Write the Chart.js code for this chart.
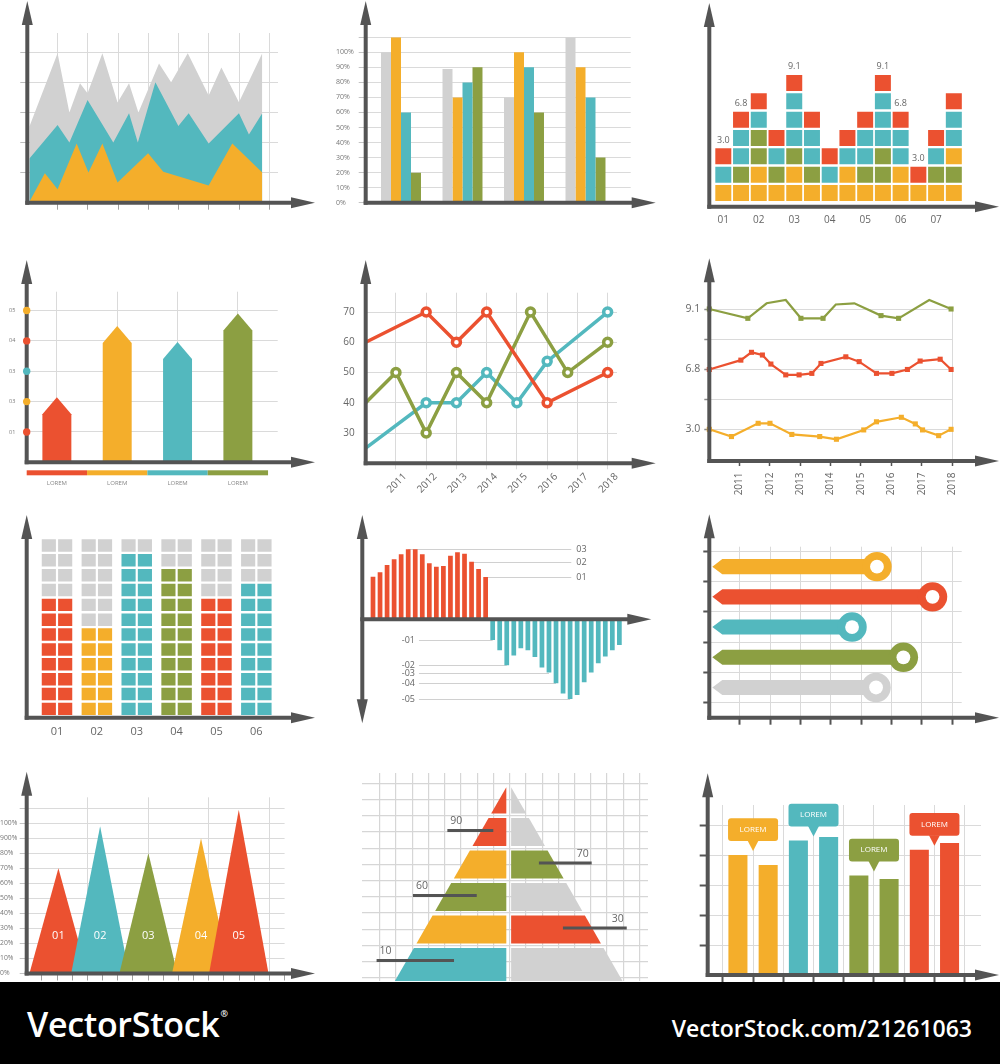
<!DOCTYPE html>
<html><head><meta charset="utf-8">
<script src="https://cdn.jsdelivr.net/npm/chart.js@4/dist/chart.umd.min.js"></script>
<style>
html,body{margin:0;padding:0;background:#fff;}
#wrap{position:relative;width:1000px;height:1064px;overflow:hidden;background:#fff;}
#footer{position:absolute;left:0;top:982px;width:1000px;height:82px;background:#000;color:#fff;font-family:'Open Sans',sans-serif;z-index:5;}
#f1{position:absolute;left:27px;top:25px;font-size:34px;line-height:1;font-weight:600;letter-spacing:-0.3px;white-space:nowrap;}
#f1 sup{font-size:9px;vertical-align:top;position:relative;top:2px;margin-left:1px;}
#f2{position:absolute;right:28px;top:35px;font-size:23px;line-height:1;font-weight:600;white-space:nowrap;}
</style></head>
<body><div id="wrap"><div id="footer"><span id="f1">VectorStock<sup>®</sup></span><span id="f2">VectorStock.com/21261063</span></div></div>
<script>
const COL = {o:'#F4AE2B', r:'#EB5130', t:'#53B8BE', g:'#8C9F42', s:'#D1D1D1'};
const AX = '#545454', GRID = '#DADADA';

// ================= DATA =================
// Panel 1 : overlapping areas [x, y]
const area1Orange = [[0.07,0.03],[0.58,0.98],[1.0,0.45],[1.63,1.97],[2.02,1.0],[2.48,1.97],[2.98,0.67],[3.99,1.64],[4.49,1.03],[5.99,0.57],[6.77,1.97],[7.76,1.0]];
const area1Teal = [[0.07,1.47],[1.0,2.58],[1.39,2.0],[1.99,3.41],[2.84,2.0],[3.36,2.97],[3.65,2.0],[4.23,4.0],[4.99,2.55],[5.33,2.97],[5.99,1.97],[6.99,2.97],[7.32,2.27],[7.76,2.97]];
const area1Gray = [[0.07,2.53],[1.0,4.97],[1.39,3.0],[1.74,3.97],[1.99,3.64],[2.48,4.97],[2.98,3.33],[3.36,3.97],[3.67,3.0],[4.35,4.63],[4.75,4.0],[5.30,4.97],[5.99,3.56],[6.41,4.49],[6.99,3.34],[7.76,4.97]];

// Panel 2 : grouped bars (%)
const groups2 = [1,2,3,4];
const bars2Gray = [100,89,70,110];
const bars2Orange = [110,70,100,90];
const bars2Teal = [60,80,90,70];
const bars2Green = [20,90,60,30];
const ticks2 = [0,10,20,30,40,50,60,70,80,90,100,110];
const tickLabels2 = ['0%','10%','20%','30%','40%','50%','60%','70%','80%','90%','100%',''];

// Panel 3 : stacked cells (bottom -> top)
const stacks3 = [
  ['o','t','r'],
  ['o','g','t','t','r'],
  ['o','o','g','g','t','r'],
  ['o','g','t','r'],
  ['o','o','g','t','t','t','r'],
  ['o','g','t','t','r'],
  ['o','t','r'],
  ['o','o','t','r'],
  ['o','g','t','t','r'],
  ['o','g','g','t','t','t','r'],
  ['o','o','t','t','r'],
  ['o','r'],
  ['o','g','t','r'],
  ['o','g','o','t','t','r']
];
const values3 = ['3.0','6.8','','','9.1','','','','','9.1','6.8','3.0','',''];
const xTicks3 = [1,3,5,7,9,11,13];
const xLabels3 = ['01','02','03','04','05','06','07'];

// Panel 4 : arrow bars
const tips4 = [2.14,4.49,3.96,4.9];
const colors4 = [COL.r,COL.o,COL.t,COL.g];
const cats4 = ['LOREM','LOREM','LOREM','LOREM'];
const yLabels4 = ['01','03','03','04','05'];
const dots4 = [COL.r,COL.o,COL.t,COL.r,COL.o];

// Panel 5 : lines with ring markers
const years5 = [2011,2012,2013,2014,2015,2016,2017,2018];
const line5Red = [[2010,60],[2012,70],[2013,60],[2014,70],[2016,40],[2018,50]];
const line5Green = [[2010,40],[2011,50],[2012,30],[2013,50],[2014,40],[2015.45,70],[2016.68,50],[2018,60]];
const line5Teal = [[2010,25],[2012,40],[2013,40],[2014,50],[2015,40],[2016,53.7],[2018,70]];
const yTicks5 = [30,40,50,60,70];

// Panel 6 : lines with square markers
const years6 = [2011,2012,2013,2014,2015,2016,2017,2018];
const yLabels6 = ['3.0','','6.8','','9.1'];
const line6Green = [[2010,5.0],[2011.27,4.69],[2011.89,5.19],[2012.52,5.30],[2013.02,4.69],[2013.75,4.69],[2014.17,5.15],[2014.78,5.19],[2015.66,4.78],[2016.24,4.69],[2017.25,5.30],[2017.97,5.0]];
const line6Red = [[2010,2.99],[2011.04,3.30],[2011.39,3.56],[2011.75,3.47],[2012.03,3.17],[2012.52,2.81],[2012.96,2.81],[2013.38,2.86],[2013.68,3.19],[2014.5,3.41],[2014.94,3.25],[2015.51,2.86],[2016.02,2.86],[2016.53,2.99],[2016.95,3.27],[2017.61,3.33],[2017.97,2.99]];
const line6Orange = [[2010,1.0],[2010.73,0.76],[2011.61,1.2],[2012.0,1.2],[2012.72,0.83],[2013.64,0.76],[2014.19,0.67],[2015.09,0.98],[2015.51,1.25],[2016.33,1.4],[2016.79,1.18],[2017.03,0.98],[2017.56,0.79],[2017.97,1.0]];

// Panel 7 : waffle columns
const counts7 = [8,6,11,10,8,9];
const colors7 = [COL.r,COL.o,COL.t,COL.g,COL.r,COL.t];
const total7 = 12;
const labels7 = ['01','02','03','04','05','06'];

// Panel 8 : positive / negative bars
const values8 = [12.8,14.1,16.3,18.0,19.5,21.0,21.0,19.5,16.8,15.8,16.0,19.1,20.1,19.7,17.3,15.1,12.7,
  -6.2,-9.3,-13.8,-10.9,-8.7,-9.3,-11.3,-14.5,-16.0,-19.2,-22.3,-23.9,-22.7,-18.9,-16.0,-13.2,-11.2,-9.3,-7.7];
const refs8 = [{label:'03',bar:5},{label:'02',bar:14},{label:'01',bar:16},{label:'-01',bar:17},{label:'-02',bar:19},{label:'-03',bar:25},{label:'-04',bar:26},{label:'-05',bar:28}];

// Panel 9 : pins
const rows9 = [5,4,3,2,1];
const values9 = [5.52,7.35,4.70,6.39,5.49];
const colors9 = [COL.o,COL.r,COL.t,COL.g,COL.s];

// Panel 10 : triangles
const start10 = [0.18,2.93,6.11,9.58,12.02];
const peak10 = [2.09,4.84,8.02,11.49,13.98];
const end10 = [4.0,6.75,9.93,13.4,15.94];
const heights10 = [70,98,80,90,109];
const labels10 = ['01','02','03','04','05'];
const colors10 = [COL.r,COL.t,COL.g,COL.o,COL.r];
const ticks10 = [0,10,20,30,40,50,60,70,80,90,100,110];
const tickLabels10 = ['0%','10%','20%','30%','40%','50%','60%','70%','80%','900%','100%',''];

// Panel 11 : pyramid (tiers top -> bottom)
const left11 = [COL.r,COL.r,COL.o,COL.g,COL.o,COL.t];
const right11 = [COL.s,COL.s,COL.g,COL.s,COL.r,COL.s];
const labels11 = ['','90','70','60','30','10'];
const sides11 = ['','L','R','L','R','L'];

// Panel 12 : paired bars with callouts
const values12 = [4.0,3.67,4.49,4.6,3.32,3.2,4.18,4.4];
const colors12 = [COL.o,COL.o,COL.t,COL.t,COL.g,COL.g,COL.r,COL.r];
const callouts12 = ['LOREM','LOREM','LOREM','LOREM'];

// ================= HELPERS =================
Chart.defaults.font.family = "'Open Sans', sans-serif";
Chart.defaults.color = '#666';
Chart.defaults.animation = false;

const pts = arr => arr.map(p => ({x:p[0], y:p[1]}));
const ticksAt = vals => s => { s.ticks = vals.map(v => ({value:v})); };
function txt(c, s, x, y, size, color, align, base) {
  c.save(); c.font = size + "px 'Open Sans', sans-serif"; c.fillStyle = color;
  c.textAlign = align || 'center'; c.textBaseline = base || 'middle'; c.fillText(s, x, y); c.restore();
}

const arrowPlugin = {
  id: 'arr',
  afterDraw(chart, args, o) {
    if (!o || !o.box) return;
    const c = chart.ctx, a = chart.chartArea, b = o.box;
    const ax = a.left;
    const ay = o.zeroY ? chart.scales.y.getPixelForValue(0) : a.bottom;
    const ty = o.yTip - b.y, rx = o.xTip - b.x;
    const L = 24, H = 5.5;
    c.save(); c.fillStyle = AX; c.strokeStyle = AX; c.lineWidth = 4;
    const by = (o.yBot != null) ? (o.yBot - b.y - L + 2) : ay + 2;
    c.beginPath(); c.moveTo(ax, by); c.lineTo(ax, ty + L - 2); c.stroke();
    c.beginPath(); c.moveTo(ax - 2, ay); c.lineTo(rx - L + 2, ay); c.stroke();
    c.beginPath(); c.moveTo(ax, ty); c.lineTo(ax - H, ty + L); c.lineTo(ax + H, ty + L); c.closePath(); c.fill();
    c.beginPath(); c.moveTo(rx, ay); c.lineTo(rx - L, ay - H); c.lineTo(rx - L, ay + H); c.closePath(); c.fill();
    if (o.yBot != null) {
      const yb = o.yBot - b.y;
      c.beginPath(); c.moveTo(ax, yb); c.lineTo(ax - H, yb - L); c.lineTo(ax + H, yb - L); c.closePath(); c.fill();
    }
    c.restore();
  }
};
Chart.register(arrowPlugin);

function mk(box, area, cfg, padL, arr) {
  padL = padL || 0;
  const cv = document.createElement('canvas');
  cv.style.cssText = `position:absolute;left:${box.x}px;top:${box.y}px;width:${box.w}px;height:${box.h}px;`;
  cv.width = box.w; cv.height = box.h;
  document.getElementById('wrap').appendChild(cv);
  const o = cfg.options = cfg.options || {};
  o.responsive = false; o.maintainAspectRatio = false; o.animation = false;
  o.layout = {padding: {left: padL, top: area.t - box.y, right: box.x + box.w - area.r, bottom: 0}};
  const sx = o.scales.x, sy = o.scales.y;
  const xh = box.y + box.h - area.b, yw = area.l - box.x - padL;
  sx.afterFit = s => { s.height = xh; s.paddingLeft = 0; s.paddingRight = 0; };
  sy.afterFit = s => { s.width = yw; s.paddingTop = 0; s.paddingBottom = 0; };
  sx.border = {display:false}; sy.border = {display:false};
  sx.offset = false; sy.offset = false;
  o.plugins = Object.assign({legend:{display:false}, tooltip:{enabled:false}}, o.plugins || {});
  if (arr) { arr.box = box; o.plugins.arr = arr; }
  return new Chart(cv, cfg);
}
const noTicks = {display:false};

// ================= PANEL 1 =================
mk({x:0,y:0,w:333,h:245},{l:27.3,r:278,t:33,b:202.7},{
  type:'line',
  data:{datasets:[
    {data:pts(area1Orange), backgroundColor:COL.o, fill:'origin', borderWidth:0, borderColor:'transparent', pointRadius:0, tension:0},
    {data:pts(area1Teal), backgroundColor:COL.t, fill:'origin', borderWidth:0, borderColor:'transparent', pointRadius:0, tension:0},
    {data:pts(area1Gray), backgroundColor:COL.s, fill:'origin', borderWidth:0, borderColor:'transparent', pointRadius:0, tension:0}
  ]},
  options:{scales:{
    x:{type:'linear', min:0, max:8.28, afterBuildTicks:ticksAt([1,2,3,4,5,6,7,8]), ticks:noTicks, grid:{color:GRID, tickLength:7, tickColor:'#a0a0a0'}},
    y:{type:'linear', min:0, max:5.64, afterBuildTicks:ticksAt([1,2,3,4,5]), ticks:noTicks, grid:{color:GRID, tickLength:7, tickColor:'#bdbdbd'}}
  }}
}, 0, {yTip:1, xTip:315});

// ================= PANEL 2 =================
mk({x:333,y:0,w:333,h:245},{l:365.7,r:630.7,t:37.3,b:202.7},{
  type:'bar',
  data:{datasets:[bars2Gray,bars2Orange,bars2Teal,bars2Green].map((vals,k)=>({
    data: groups2.map((g,i)=>({x:g, y:vals[i]})),
    backgroundColor:[COL.s,COL.o,COL.t,COL.g][k], barPercentage:1, categoryPercentage:0.65
  }))},
  options:{scales:{
    x:{type:'linear', min:0.426, max:4.735, afterBuildTicks:ticksAt([]), ticks:noTicks, grid:{display:false}},
    y:{type:'linear', min:0, max:110, afterBuildTicks:ticksAt(ticks2),
       ticks:{callback:(v,i)=>tickLabels2[i], crossAlign:'far', font:{size:7}, color:'#777'},
       grid:{color:GRID, tickLength:7, tickColor:'#c4c4c4'}}
  }}
}, 3, {yTip:1, xTip:655.7});

// ================= PANEL 3 =================
(function(){
  const maxH = Math.max(...stacks3.map(s=>s.length));
  const ds = [];
  for (let L=0; L<maxH; L++) {
    ds.push({
      data: stacks3.map((s,i)=>({x:i+1, y: s[L] ? 1 : null})),
      backgroundColor: stacks3.map(s => s[L] ? COL[s[L]] : 'transparent'),
      borderColor:'#fff', borderWidth:{left:1.2,right:1.2,top:1.5,bottom:1.5}, borderSkipped:false,
      barPercentage:1, categoryPercentage:1
    });
  }
  mk({x:666,y:0,w:334,h:245},{l:709.3,r:990,t:20,b:206.7},{
    type:'bar', data:{datasets:ds},
    options:{scales:{
      x:{type:'linear', stacked:true, min:0.21, max:16.04, afterBuildTicks:ticksAt(xTicks3),
         ticks:{callback:(v,i)=>xLabels3[i], font:{size:10}, color:'#666', padding:7.3, maxRotation:0, minRotation:0},
         grid:{display:false, drawTicks:false}},
      y:{type:'linear', stacked:true, min:-0.25, max:9.94, afterBuildTicks:ticksAt([]), ticks:noTicks, grid:{display:false}}
    }},
    plugins:[{id:'p3lab', afterDatasetsDraw(ch){
      const c=ch.ctx, xs=ch.scales.x, ys=ch.scales.y;
      values3.forEach((t,i)=>{ if(!t) return;
        txt(c, t, xs.getPixelForValue(i+1), ys.getPixelForValue(stacks3[i].length)-7, 9, '#666'); });
    }}]
  }, 0, {yTip:3, xTip:999});
})();

// ================= PANEL 4 =================
mk({x:0,y:245,w:333,h:260},{l:26.7,r:277.7,t:291.7,b:462.3},{
  type:'bar',
  data:{datasets:[{data: tips4.map((v,i)=>({x:i+0.5, y:v})), backgroundColor:'transparent', barPercentage:0.48, categoryPercentage:1}]},
  options:{scales:{
    x:{type:'linear', min:0, max:4.16, afterBuildTicks:ticksAt([1,2,3,4]), ticks:noTicks, grid:{color:GRID, drawTicks:false}},
    y:{type:'linear', min:0, max:5.62, afterBuildTicks:ticksAt([1,2,3,4,5]),
       ticks:{callback:(v,i)=>yLabels4[i], crossAlign:'far', font:{size:5.5}, color:'#777'},
       grid:{color:GRID, drawTicks:false}}
  }},
  plugins:[{id:'p4', afterDatasetsDraw(ch){
      const c=ch.ctx;
      ch.getDatasetMeta(0).data.forEach((el,i)=>{
        const p=el.getProps(['x','y','base','width'],true), hw=p.width/2;
        c.fillStyle=colors4[i]; c.beginPath();
        c.moveTo(p.x-hw,p.base); c.lineTo(p.x-hw,p.y+17); c.lineTo(p.x,p.y); c.lineTo(p.x+hw,p.y+17); c.lineTo(p.x+hw,p.base);
        c.closePath(); c.fill();
      });
    },
    afterDraw(ch){
      const c=ch.ctx, a=ch.chartArea, xs=ch.scales.x, ys=ch.scales.y;
      yLabels4.forEach((l,i)=>{ c.fillStyle=dots4[i]; c.beginPath(); c.arc(a.left, ys.getPixelForValue(i+1), 3.7, 0, Math.PI*2); c.fill(); });
      cats4.forEach((l,i)=>{ const x0=xs.getPixelForValue(i), x1=xs.getPixelForValue(i+1);
        c.fillStyle=colors4[i]; c.fillRect(x0, a.bottom+8, x1-x0, 5);
        txt(c, l, (x0+x1)/2, a.bottom+21.4, 6, '#888'); });
    }}]
}, 9, {yTip:260, xTip:315});

// ================= PANEL 5 =================
(function(){
  const mkLine = (arr,col)=>({data:pts(arr), borderColor:col, borderWidth:3.5, tension:0, fill:false,
    pointRadius: arr.map((p,i)=> i===0 ? 0 : 4), pointBackgroundColor:'#fff', pointBorderColor:col, pointBorderWidth:3.5, clip:false});
  mk({x:333,y:245,w:333,h:260},{l:365.7,r:617,t:292.7,b:463.3},{
    type:'line',
    data:{datasets:[mkLine(line5Red,COL.r), mkLine(line5Green,COL.g), mkLine(line5Teal,COL.t)]},
    options:{scales:{
      x:{type:'linear', min:2010, max:2018.31, afterBuildTicks:ticksAt(years5),
         ticks:{callback:(v,i)=>String(years5[i]), minRotation:45, maxRotation:45, labelOffset:9, padding:1.5, font:{size:10}, color:'#666'},
         grid:{color:GRID, tickLength:6, tickColor:GRID}},
      y:{type:'linear', min:20, max:76.4, afterBuildTicks:ticksAt(yTicks5),
         ticks:{callback:(v,i)=>String(yTicks5[i]), padding:11, font:{size:10}, color:'#666'},
         grid:{color:GRID, drawTicks:false}}
    }}
  }, 0, {yTip:260, xTip:655.7});
})();

// ================= PANEL 6 =================
(function(){
  const mkLine = (arr,col)=>({data:pts(arr), borderColor:col, borderWidth:2.2, tension:0, fill:false,
    pointStyle:'rect', pointRadius:3.6, pointBackgroundColor:col, pointBorderWidth:0, clip:false});
  mk({x:666,y:245,w:334,h:260},{l:709.3,r:952,t:309,b:461},{
    type:'line',
    data:{datasets:[mkLine(line6Green,COL.g), mkLine(line6Red,COL.r), mkLine(line6Orange,COL.o)]},
    options:{scales:{
      x:{type:'linear', min:2010, max:2018, afterBuildTicks:ticksAt(years6),
         ticks:{callback:(v,i)=>String(years6[i]), minRotation:90, maxRotation:90, padding:6.5, font:{size:10}, color:'#666'},
         grid:{color:(ctx)=> (ctx.tick && ctx.tick.value===2018) ? GRID : 'transparent', tickLength:5, tickColor:AX, tickWidth:1.5}},
      y:{type:'linear', min:-0.053, max:5, afterBuildTicks:ticksAt([1,2,3,4,5]),
         ticks:{callback:(v,i)=>yLabels6[i], padding:4, font:{size:10.5}, color:'#666'},
         grid:{color:GRID, tickLength:5, tickColor:'#8a8a8a', tickWidth:1.5}}
    }}
  }, 0, {yTip:258.3, xTip:999});
})();

// ================= PANEL 7 =================
(function(){
  const ds = [];
  ['a','b'].forEach(st => {
    for (let k=0; k<total7; k++) {
      ds.push({stack:st,
        data: counts7.map((c,i)=>({x:i+1, y:1})),
        backgroundColor: counts7.map((c,i)=> k < c ? colors7[i] : COL.s),
        borderColor:'#fff', borderWidth:{left:1.1,right:1.1,top:1.2,bottom:1.2}, borderSkipped:false,
        barPercentage:1, categoryPercentage:0.82});
    }
  });
  mk({x:0,y:505,w:333,h:255},{l:26.7,r:295,t:530,b:717.7},{
    type:'bar', data:{datasets:ds},
    options:{scales:{
      x:{type:'linear', stacked:true, min:0.24, max:6.97, afterBuildTicks:ticksAt([1,2,3,4,5,6]),
         ticks:{callback:(v,i)=>labels7[i], font:{size:11}, color:'#666', padding:7.4, maxRotation:0, minRotation:0},
         grid:{display:false, drawTicks:false}},
      y:{type:'linear', stacked:true, min:-0.094, max:12.54, afterBuildTicks:ticksAt([]), ticks:noTicks, grid:{display:false}}
    }}
  }, 0, {yTip:515, xTip:315});
})();

// ================= PANEL 8 =================
mk({x:333,y:505,w:333,h:255},{l:362.3,r:640,t:516,b:722.6},{
  type:'bar',
  data:{datasets:[{data: values8.map((v,i)=>({x:i, y:v})), backgroundColor: values8.map(v=> v>=0 ? COL.r : COL.t), barPercentage:0.67, categoryPercentage:1}]},
  options:{scales:{
    x:{type:'linear', min:-1.52, max:37.93, afterBuildTicks:ticksAt([]), ticks:noTicks, grid:{display:false}},
    y:{type:'linear', min:-31, max:31, afterBuildTicks:ticksAt([]), ticks:noTicks, grid:{display:false}}
  }},
  plugins:[{id:'p8', beforeDatasetsDraw(ch){
    const c=ch.ctx, xs=ch.scales.x, ys=ch.scales.y;
    const rightX = xs.getPixelForValue(28.17), leftX = xs.getPixelForValue(6.53);
    c.save(); c.strokeStyle='#d0d0d0'; c.lineWidth=1;
    refs8.forEach(r=>{
      const v=values8[r.bar], py=Math.round(ys.getPixelForValue(v))+0.5, bx=xs.getPixelForValue(r.bar);
      c.beginPath();
      if (v>0) { c.moveTo(bx,py); c.lineTo(rightX,py); c.stroke(); txt(c, r.label, rightX+5, py, 9, '#666', 'left'); }
      else { c.moveTo(leftX,py); c.lineTo(bx,py); c.stroke(); txt(c, r.label, leftX-4, py, 9, '#666', 'right'); }
    });
    c.restore();
  }}]
}, 0, {yTip:515, xTip:651.3, zeroY:true, yBot:723.3});

// ================= PANEL 9 =================
mk({x:666,y:505,w:334,h:255},{l:709.3,r:961.7,t:546.7,b:717.7},{
  type:'bar',
  data:{datasets:[{data: values9.map((v,i)=>({x:v, y:rows9[i]})), backgroundColor:'transparent', barPercentage:0.5, categoryPercentage:1}]},
  options:{indexAxis:'y', scales:{
    x:{type:'linear', min:0, max:8.31, afterBuildTicks:ticksAt([1,2,3,4,5,6,7,8]), ticks:noTicks, grid:{color:GRID, tickLength:7, tickColor:AX, tickWidth:2}},
    y:{type:'linear', min:0, max:5.66, afterBuildTicks:ticksAt([1,2,3,4,5]), ticks:noTicks, grid:{color:GRID, tickLength:6, tickColor:AX, tickWidth:2}}
  }},
  plugins:[{id:'p9', afterDatasetsDraw(ch){
    const c=ch.ctx;
    ch.getDatasetMeta(0).data.forEach((el,i)=>{
      const p=el.getProps(['x','y','base','height'],true), h=p.height/2;
      c.fillStyle=colors9[i]; c.beginPath();
      c.moveTo(p.base+3,p.y); c.lineTo(p.base+13,p.y-h); c.lineTo(p.x,p.y-h); c.lineTo(p.x,p.y+h); c.lineTo(p.base+13,p.y+h);
      c.closePath(); c.fill();
      c.beginPath(); c.arc(p.x,p.y,14.7,0,Math.PI*2); c.fill();
      c.fillStyle='#fff'; c.beginPath(); c.arc(p.x,p.y,6.9,0,Math.PI*2); c.fill();
    });
  }}]
}, 0, {yTip:514.3, xTip:999});

// ================= PANEL 10 =================
mk({x:0,y:760,w:333,h:222},{l:26.7,r:284.6,t:797.3,b:973.5},{
  type:'line',
  data:{datasets: peak10.map((pk,i)=>({
    data:[{x:start10[i],y:0},{x:pk,y:heights10[i]},{x:end10[i],y:0}],
    backgroundColor:colors10[i], borderColor:'transparent', borderWidth:0, pointRadius:0, fill:'origin', tension:0,
    order: peak10.length - i
  }))},
  options:{scales:{
    x:{type:'linear', min:0, max:17, afterBuildTicks:ticksAt([1,2,3,4,5,6,7,8,9,10,11,12,13,14,15,16,17]), ticks:noTicks,
       grid:{color:(ctx)=> (ctx.tick && ctx.tick.value%4===0) ? GRID : 'transparent', tickLength:7, tickColor:'#a0a0a0'}},
    y:{type:'linear', min:0, max:117.2, afterBuildTicks:ticksAt(ticks10),
       ticks:{callback:(v,i)=>tickLabels10[i], crossAlign:'far', font:{size:6.8}, color:'#777'},
       grid:{color:GRID, tickLength:7, tickColor:'#c4c4c4'}}
  }},
  plugins:[{id:'p10', afterDatasetsDraw(ch){
    const c=ch.ctx, xs=ch.scales.x, ys=ch.scales.y;
    labels10.forEach((l,i)=> txt(c, l, xs.getPixelForValue(peak10[i]), ys.getPixelForValue(25), 11, '#fff'));
  }}]
}, 0, {yTip:771.7, xTip:315});

// ================= PANEL 11 =================
(function(){
  const G = {c:-0.06, apex:11.75, slope:0.575, gap:0.15, period:2, h:1.72, top0:1.85, base:-0.2};
  const halfW = y => G.gap + (G.apex - y) * G.slope;
  const tiers = left11.map((col,t)=>{
    const k = left11.length - 1 - t;
    const top = t === 0 ? G.apex : G.top0 + k*G.period;
    const bottom = k === 0 ? G.base : G.top0 + k*G.period - G.h;
    return {top, bottom};
  });
  const ds = [];
  tiers.forEach((tr,t)=>{
    const wb = halfW(tr.bottom), wt = halfW(tr.top);
    ds.push({data:[{x:G.c-G.gap,y:tr.bottom},{x:G.c-wb,y:tr.bottom},{x:G.c-wt,y:tr.top},{x:G.c-G.gap,y:tr.top}],
      backgroundColor:left11[t], borderColor:'transparent', borderWidth:0, pointRadius:0, fill:'shape', tension:0});
    ds.push({data:[{x:G.c+G.gap,y:tr.bottom},{x:G.c+wb,y:tr.bottom},{x:G.c+wt,y:tr.top},{x:G.c+G.gap,y:tr.top}],
      backgroundColor:right11[t], borderColor:'transparent', borderWidth:0, pointRadius:0, fill:'shape', tension:0});
  });
  const spans = {1:[-3.84,-1.01], 2:[1.8,5.05], 3:[-5.96,-2.03], 4:[3.28,7.21], 5:[-8.2,-3.43]};
  const range = (a,b)=>{ const r=[]; for(let v=a; v<=b; v++) r.push(v); return r; };
  mk({x:333,y:760,w:333,h:222},{l:362.3,r:648,t:773,b:981.2},{
    type:'line', data:{datasets:ds},
    options:{scales:{
      x:{type:'linear', min:-9.08, max:8.52, afterBuildTicks:ticksAt(range(-8,8)), ticks:noTicks, grid:{color:'#d6d6d6', lineWidth:1.2, drawTicks:false}},
      y:{type:'linear', min:-0.2, max:12.63, afterBuildTicks:ticksAt(range(0,12)), ticks:noTicks, grid:{color:'#d6d6d6', lineWidth:1.2, drawTicks:false}}
    }},
    plugins:[{id:'p11', afterDatasetsDraw(ch){
      const c=ch.ctx, xs=ch.scales.x, ys=ch.scales.y;
      labels11.forEach((l,t)=>{ if(!l) return;
        const y = ys.getPixelForValue(tiers[t].top - 0.77);
        const x0 = xs.getPixelForValue(spans[t][0]), x1 = xs.getPixelForValue(spans[t][1]);
        c.save(); c.strokeStyle=AX; c.lineWidth=3; c.beginPath(); c.moveTo(x0,y); c.lineTo(x1,y); c.stroke(); c.restore();
        if (sides11[t]==='L') txt(c, l, x0+3, y-4, 10.5, '#666', 'left', 'bottom');
        else txt(c, l, x1-3, y-4, 10.5, '#666', 'right', 'bottom');
      });
    }}]
  }, 0, null);
})();

// ================= PANEL 12 =================
mk({x:666,y:760,w:334,h:222},{l:707.7,r:981,t:805,b:975},{
  type:'bar',
  data:{datasets:[{data: values12.map((v,i)=>({x:i+1, y:v})), backgroundColor:colors12, barPercentage:0.63, categoryPercentage:1}]},
  options:{scales:{
    x:{type:'linear', min:0, max:9.04, afterBuildTicks:ticksAt([1,2,3,4,5,6,7,8]), ticks:noTicks, grid:{color:GRID, tickLength:7, tickColor:AX, tickWidth:2}},
    y:{type:'linear', min:0, max:5.67, afterBuildTicks:ticksAt([1,2,3,4,5]), ticks:noTicks, grid:{color:GRID, tickLength:8, tickColor:AX, tickWidth:2}}
  }},
  plugins:[{id:'p12', afterDatasetsDraw(ch){
    const c=ch.ctx, els=ch.getDatasetMeta(0).data;
    callouts12.forEach((l,g)=>{
      const e0=els[2*g].getProps(['x','y'],true), e1=els[2*g+1].getProps(['x','y'],true);
      const cx=(e0.x+e1.x)/2, tip=e0.y-4, bb=tip-10, bh=22.7, bt=bb-bh, w=50, r=3;
      c.fillStyle=colors12[2*g];
      c.beginPath();
      c.moveTo(cx-w/2+r,bt); c.lineTo(cx+w/2-r,bt); c.quadraticCurveTo(cx+w/2,bt,cx+w/2,bt+r);
      c.lineTo(cx+w/2,bb-r); c.quadraticCurveTo(cx+w/2,bb,cx+w/2-r,bb);
      c.lineTo(cx-w/2+r,bb); c.quadraticCurveTo(cx-w/2,bb,cx-w/2,bb-r);
      c.lineTo(cx-w/2,bt+r); c.quadraticCurveTo(cx-w/2,bt,cx-w/2+r,bt); c.closePath(); c.fill();
      c.beginPath(); c.moveTo(cx-5.5,bb-0.5); c.lineTo(cx+5.5,bb-0.5); c.lineTo(cx,tip); c.closePath(); c.fill();
      txt(c, l, cx, bt+bh/2, 8, '#fff');
    });
  }}]
}, 0, {yTip:773.3, xTip:999});
</script>
</body></html>
